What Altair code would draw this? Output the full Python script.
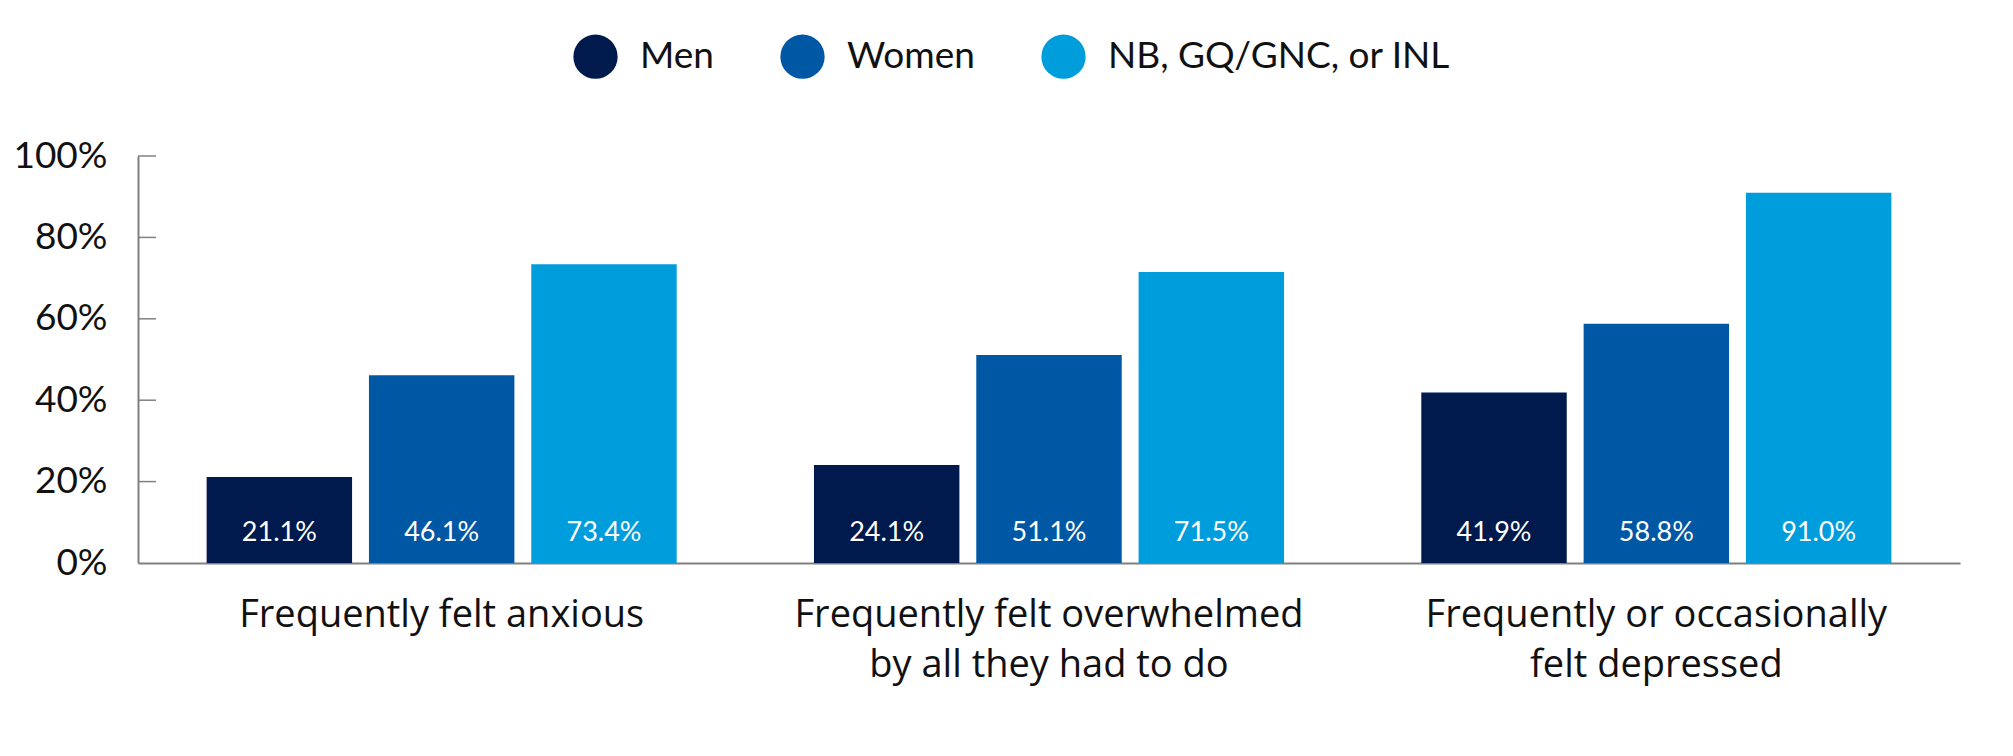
import altair as alt
import pandas as pd

categories = [
    "Frequently felt anxious",
    "Frequently felt overwhelmed|by all they had to do",
    "Frequently or occasionally|felt depressed",
]
groups = ["Men", "Women", "NB, GQ/GNC, or INL"]
men = [21.1, 24.1, 41.9]
women = [46.1, 51.1, 58.8]
nb = [73.4, 71.5, 91.0]
colors = ["#001A4E", "#0057A4", "#009DDC"]
y_ticks = [0, 20, 40, 60, 80, 100]

rows = []
for i, c in enumerate(categories):
    for g, vals in zip(groups, [men, women, nb]):
        rows.append({"category": c, "group": g, "value": vals[i]})
df = pd.DataFrame(rows)
ticks_df = pd.DataFrame({"value": y_ticks[1:]})

FONT = "Lato"
XFONT = "Open Sans"
GREY = "#808080"
TXT = "#111111"

x_enc = alt.X(
    "category:N",
    sort=categories,
    scale=alt.Scale(paddingInner=0.226, paddingOuter=0.113),
    axis=alt.Axis(
        title=None,
        labelExpr="split(datum.label, '|')",
        labelAngle=0,
        ticks=False,
        domainColor=GREY,
        domainWidth=2,
        labelFont=XFONT,
        labelFontSize=38,
        labelColor=TXT,
        labelPadding=33,
        labelLineHeight=50,
        labelLimit=1000,
    ),
)
xoff_enc = alt.XOffset(
    "group:N", sort=groups, scale=alt.Scale(paddingInner=0.104, paddingOuter=0)
)
y_scale = alt.Scale(domain=[0, 100], nice=False)
y_axis = alt.Axis(
    title=None,
    values=y_ticks,
    labelExpr="datum.value + '%'",
    ticks=False,
    grid=False,
    domainColor=GREY,
    domainWidth=2,
    labelPadding=31,
    labelFont=FONT,
    labelFontSize=37,
    labelColor=TXT,
)

base = alt.Chart(df)

bars = base.mark_bar().encode(
    x=x_enc,
    xOffset=xoff_enc,
    y=alt.Y("value:Q", scale=y_scale, axis=y_axis),
    color=alt.Color(
        "group:N",
        sort=groups,
        scale=alt.Scale(domain=groups, range=colors),
        legend=alt.Legend(
            title=None,
            orient="none",
            legendX=435,
            legendY=-122,
            direction="horizontal",
            symbolType="circle",
            symbolSize=1963,
            symbolStrokeWidth=0,
            symbolOpacity=1,
            labelFont=FONT,
            labelFontSize=37,
            labelColor=TXT,
            labelOffset=22,
            labelLimit=1000,
            columnPadding=66,
            padding=0,
        ),
    ),
)

labels = (
    base.transform_calculate(
        zero="0", label="format(datum.value, '.1f') + '%'"
    )
    .mark_text(
        color="white",
        font=FONT,
        fontSize=27,
        baseline="alphabetic",
        align="center",
        dy=-22,
    )
    .encode(
        x=x_enc,
        xOffset=xoff_enc,
        y=alt.Y("zero:Q", scale=y_scale, axis=y_axis),
        text="label:N",
    )
)

tick_marks = (
    alt.Chart(ticks_df)
    .mark_rule(color=GREY, strokeWidth=1.5)
    .encode(
        y=alt.Y("value:Q", scale=y_scale, axis=y_axis),
        x=alt.value(0),
        x2=alt.value(18),
    )
)

chart = (
    alt.layer(bars, labels, tick_marks)
    .properties(
        width=1822,
        height=407,
        padding={"left": 130, "top": 148, "right": 30, "bottom": 170},
        autosize=alt.AutoSizeParams(type="none"),
    )
    .configure_view(stroke=None)
)

chart.save("out.html", embed_options={"renderer": "svg", "actions": False})
